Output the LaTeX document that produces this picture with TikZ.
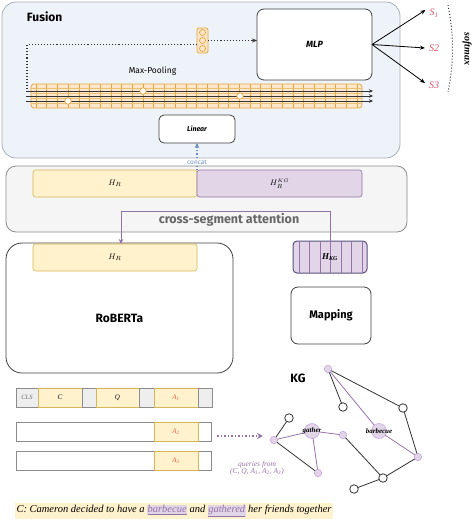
\documentclass[tikz,border=0pt]{standalone}
\usepackage{fontspec}
\setmainfont{Liberation Serif}
\setsansfont{Fira Sans}
\usetikzlibrary{arrows.meta,calc}
\definecolor{fusbg}{HTML}{EEF2F9}
\definecolor{fusbd}{HTML}{A8AEB8}
\definecolor{graybg}{HTML}{F5F5F5}
\definecolor{graybd}{HTML}{8C8C8C}
\definecolor{yfill}{HTML}{FFF2CC}
\definecolor{ydraw}{HTML}{D6B656}
\definecolor{pfill}{HTML}{E1D5E7}
\definecolor{pdraw}{HTML}{9673A6}
\definecolor{hkgbd}{HTML}{56517E}
\definecolor{ofill}{HTML}{FFE6CC}
\definecolor{odraw}{HTML}{E0A63A}
\definecolor{sred}{HTML}{E0506B}
\definecolor{ared}{HTML}{E0664F}
\definecolor{cblue}{HTML}{6C8EBF}
\definecolor{tokgray}{HTML}{EEEEEE}
\definecolor{kgnode}{HTML}{C9A8DC}
\newcommand{\fsz}[1]{\fontsize{#1}{#1}\selectfont}
\newcommand{\hlw}[1]{{\setlength{\fboxsep}{0.3pt}\colorbox{pfill}{\textcolor{pdraw}{\underline{#1}}}}}
\begin{document}
\begin{tikzpicture}[x=1pt,y=-1pt,
  every node/.style={inner sep=0pt,outer sep=0pt},
  bigbox/.style={draw=#1,line width=0.8pt,rounded corners=14pt},
  whitebox/.style={draw=black!75,fill=white,line width=0.8pt,rounded corners=7pt},
  ybox/.style={draw=ydraw,fill=yfill,line width=0.6pt,rounded corners=2.5pt,font=\fsz{8}},
  pbox/.style={draw=pdraw,fill=pfill,line width=0.6pt,rounded corners=2.5pt,font=\fsz{8}},
  tokg/.style={draw=graybd,fill=tokgray,line width=0.6pt,minimum height=19pt},
  toky/.style={draw=ydraw,fill=yfill,line width=0.6pt,minimum height=19pt,font=\itshape\fsz{7}},
  rowbox/.style={draw=graybd,fill=white,line width=0.6pt,minimum width=195pt,minimum height=19pt},
  comic/.style={font=\sffamily\bfseries\fsz{#1}},
  kgp/.style={circle,fill=pfill,draw=kgnode,line width=0.6pt,minimum size=7.5pt},
  kgw/.style={circle,fill=white,draw=black!80,line width=0.8pt,minimum size=8.5pt},
  kgbig/.style={circle,fill=pfill,draw=kgnode,line width=0.6pt,minimum size=15pt},
  kgb/.style={draw=black!80,line width=0.8pt},
  kgpe/.style={draw=pdraw,line width=0.8pt},
  poolcirc/.style={circle,fill=white,draw=odraw,line width=0.7pt,minimum size=6.5pt},
  arr/.style={-{Stealth[length=5pt,width=4pt]},line width=0.8pt}
]
\useasboundingbox (0,0) rectangle (474,520);

% ---------------- Fusion ----------------
\node[bigbox=fusbd,fill=fusbg,minimum width=398pt,minimum height=156pt] (fusion) at (201,80) {};
\node[comic=12,anchor=west] (fusionlbl) at (27,17) {Fusion};
\node[whitebox,minimum width=115pt,minimum height=71pt,font=\sffamily\bfseries\itshape\fsz{9}] (mlp) at (314.5,44.5) {MLP};
\node[draw=odraw,fill=ofill,line width=0.7pt,rounded corners=2pt,minimum width=11pt,minimum height=25pt] (vec) at (202.5,40.5) {};
\foreach \i/\yy in {1/32.5,2/40.5,3/48.5}
  \node[circle,draw=odraw,fill=ofill,line width=0.7pt,minimum size=6pt] (vc\i) at (202.5,\yy) {};
\node[font=\sffamily\fsz{8.5}] (mplbl) at (152.5,71) {Max-Pooling};
\node[draw=odraw,fill=ofill,line width=0.7pt,rounded corners=3pt,minimum width=331pt,minimum height=24pt] (pool) at (196.5,96) {};
\foreach \k in {0,...,30}
  \draw[odraw,line width=0.5pt] (31+10.7*\k+5,84) -- (31+10.7*\k+5,108);
\foreach \yy in {88.5,93.5,98.5,103.5}
  \draw[odraw!70,line width=0.35pt] (31,\yy) -- (362,\yy);
\coordinate (l1s) at (26,91); \coordinate (l1e) at (373,91);
\coordinate (l2s) at (26,96); \coordinate (l2e) at (373,96);
\coordinate (l3s) at (26,101); \coordinate (l3e) at (373,101);
\draw[-{Stealth[length=4pt,width=3.5pt]},line width=0.8pt,black!80] (l1s) -- (l1e);
\draw[-{Stealth[length=4pt,width=3.5pt]},line width=0.8pt,black!80] (l2s) -- (l2e);
\draw[-{Stealth[length=4pt,width=3.5pt]},line width=0.8pt,black!80] (l3s) -- (l3e);
\node[poolcirc] (pc1) at (143,91) {};
\node[poolcirc] (pc2) at (240,96) {};
\node[poolcirc] (pc3) at (68,101) {};
\coordinate (dotcorner) at (27,44.5);
\draw[dotted,line width=1.1pt,black!80] ($(vec.west)+(0,4)$) -- (dotcorner) -- (27,89);
\draw[dotted,line width=1.1pt,black!80,-{Stealth[length=5pt,width=4pt]}] (vec.east) -- (mlp.west |- vec.east);
\node[whitebox,rounded corners=5pt,minimum width=76pt,minimum height=28pt,font=\sffamily\bfseries\itshape\fsz{7}] (linear) at (197,129) {Linear};

% outputs
\node[font=\itshape\fsz{10},text=sred] (s1) at (434,13) {S\textsubscript{1}};
\node[font=\itshape\fsz{10},text=sred] (s2) at (434,48) {S2};
\node[font=\itshape\fsz{10},text=sred] (s3) at (434,85) {S3};
\draw[arr] (mlp.east) -- ($(s1.west)+(-4,-3)$);
\draw[arr] (mlp.east) -- ($(s2.west)+(-4,0)$);
\draw[arr] (mlp.east) -- ($(s3.west)+(-4,-2)$);
\draw[dotted,line width=1pt,black!80] (448,5) .. controls (454,35) and (454,62) .. (448,92);
\node[font=\bfseries\itshape\fsz{10},rotate=-90] (softmax) at (467,49) {softmax};

% ---------------- cross-segment attention ----------------
\node[bigbox=graybd,fill=graybg,rounded corners=10pt,minimum width=401pt,minimum height=66pt] (cross) at (206.5,199) {};
\node[ybox,minimum width=164pt,minimum height=27pt] (hr1) at (115,183.5) {$H_R$};
\node[pbox,minimum width=165pt,minimum height=27pt] (hrkg) at (279.5,183.5) {$H_R^{\scriptscriptstyle KG}$};
\node[font=\sffamily\bfseries\fsz{12.5},text=black!60] (crosslbl) at (229,220) {cross-segment attention};
\draw[cblue,dotted,line width=1.1pt,-{Stealth[length=5pt,width=4.5pt]}] (hr1.north east) -- (linear.south);
\node[fill=white,inner sep=0.6pt,font=\sffamily\fsz{6.5},text=cblue] (concat) at (197,162.5) {concat};

% ---------------- RoBERTa / KG ----------------
\node[whitebox,rounded corners=16pt,minimum width=227pt,minimum height=130pt] (roberta) at (119.5,308) {};
\node[ybox,minimum width=164pt,minimum height=27pt] (hr2) at (115,257.5) {$H_R$};
\node[comic=12] (robertalbl) at (119.5,318) {RoBERTa};
\node[draw=hkgbd,fill=pfill,line width=1pt,rounded corners=4pt,minimum width=74pt,minimum height=32pt] (hkg) at (330,257) {};
\foreach \k in {0,...,6}
  \draw[pdraw,line width=0.6pt] (299+10.5*\k,241.5) -- (299+10.5*\k,272.5);
\node[font=\bfseries\itshape\fsz{9}] (hkglbl) at (330,257) {H\textsubscript{KG}};
\node[whitebox,minimum width=80pt,minimum height=57pt,comic=11] (mapping) at (331,315.5) {Mapping};
\coordinate (att) at (121,211);
\draw[pdraw,line width=1pt,-{Stealth[length=5pt,width=4.5pt]}] (hkg.north) |- (att) -- (att |- hr2.north);

% ---------------- token rows ----------------
\node[tokg,minimum width=22pt,font=\itshape\fsz{6.5},text=black!60] (cls) at (27,397.5) {CLS};
\node[toky,minimum width=44pt] (tc) at (60,397.5) {C};
\node[tokg,minimum width=14pt] (g1) at (89,397.5) {};
\node[toky,minimum width=43pt] (tq) at (117.5,397.5) {Q};
\node[tokg,minimum width=15pt] (g2) at (146.5,397.5) {};
\node[toky,minimum width=44pt,text=ared] (ta1) at (176,397.5) {A\textsubscript{1}};
\node[tokg,minimum width=14pt] (g3) at (205,397.5) {};
\node[rowbox] (row2) at (113.5,431.5) {};
\node[toky,minimum width=44pt,text=ared] (ta2) at (176,431.5) {A\textsubscript{2}};
\node[rowbox] (row3) at (113.5,460.5) {};
\node[toky,minimum width=44pt,text=ared] (ta3) at (176,460.5) {A\textsubscript{3}};
\coordinate (qs) at (217,436);
\coordinate (qe) at (263,436);
\draw[pdraw,dotted,line width=1.5pt,-{Stealth[length=6pt,width=6pt]}] (qs) -- (qe);
\node[font=\itshape\fsz{7.5},text=pdraw,align=center] (queries) at (257,468.5) {queries from\\[-0.5pt](C, Q, A\textsubscript{1}, A\textsubscript{2}, A\textsubscript{3})};

% ---------------- KG graph ----------------
\node[comic=12] (kglbl) at (298,378) {KG};
\node[kgp] (n1) at (328,369) {};
\node[kgw] (n2) at (343,407) {};
\node[kgw] (n3) at (403,408) {};
\node[kgw] (n4) at (289,418) {};
\node[kgbig] (gather) at (312,431) {};
\node[kgp] (n6) at (274,440) {};
\node[kgp] (n7) at (343,435) {};
\node[kgbig] (barbecue) at (379,431) {};
\node[kgp] (n9) at (418,457) {};
\node[kgp] (n10) at (318,473) {};
\node[kgw] (n11) at (383,478) {};
\node[kgw] (n12) at (354,489) {};
\draw[kgb] (n1) -- (n2);
\draw[kgb] (n1) -- (n3);
\draw[kgb] (n3) -- (n9);
\draw[kgb] (n9) -- (n11);
\draw[kgb] (n11) -- (n12);
\draw[kgb] (n7) -- (n11);
\draw[kgb] (n6) -- (n10);
\draw[kgb] (n6) -- (n4);
\draw[kgpe] (n1) -- (barbecue);
\draw[kgpe] (barbecue) -- (n9);
\draw[kgpe] (n6) -- (gather);
\draw[kgpe] (gather) -- (n7);
\draw[kgpe] (gather) -- (n10);
\node[font=\bfseries\itshape\fsz{7}] (gatherlbl) at (gather) {gather};
\node[font=\bfseries\itshape\fsz{7}] (barbecuelbl) at (barbecue) {barbecue};

% ---------------- sentence ----------------
\node[anchor=west,fill=yfill,inner sep=1.5pt,font=\itshape\fsz{10.5}] (sentence) at (15,511) {C: Cameron decided to have a \hlw{barbecue} and \hlw{gathered} her friends together};
\end{tikzpicture}
\end{document}
